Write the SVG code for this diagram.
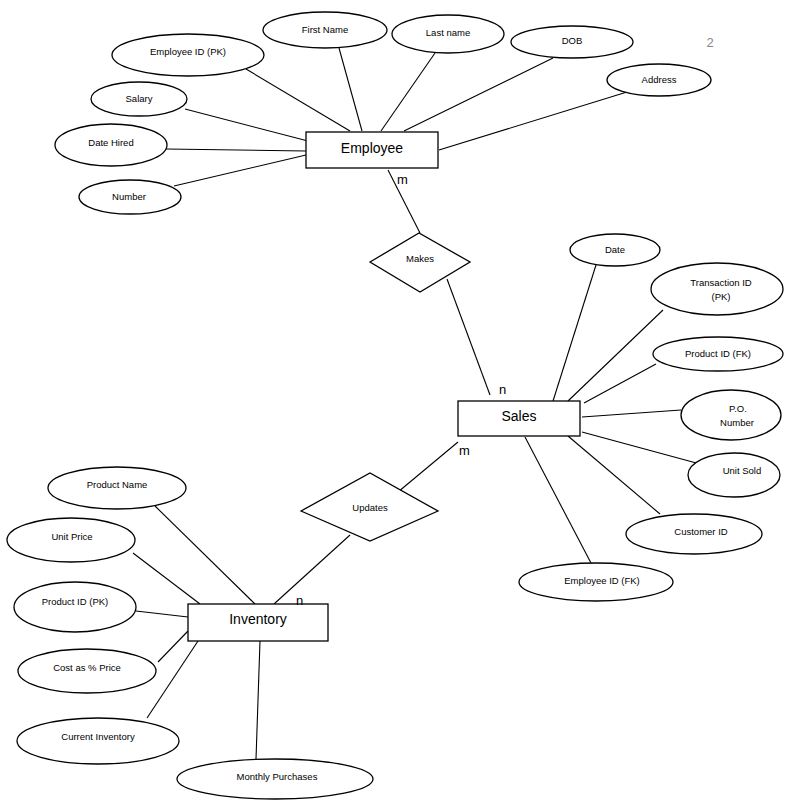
<svg xmlns="http://www.w3.org/2000/svg" width="801" height="808" viewBox="0 0 801 808">
<style>
.a{fill:#fff;stroke:#000;stroke-width:1.3}
.c line{stroke:#000;stroke-width:1.1}
text{font-family:"Liberation Sans",Arial,sans-serif;text-anchor:middle;fill:#000}
.s{font-size:9.5px}
.e{font-size:14px}
.l{font-size:13px;text-anchor:start}
</style>
<rect width="801" height="808" fill="#fff"/>
<g class="c" id="connectors">
<line x1="246" y1="69" x2="350" y2="131"/>
<line x1="339" y1="48" x2="362" y2="131"/>
<line x1="435" y1="53" x2="381" y2="131"/>
<line x1="553" y1="58" x2="404" y2="131"/>
<line x1="627" y1="92" x2="439" y2="150"/>
<line x1="185" y1="109" x2="308" y2="141"/>
<line x1="166" y1="149" x2="306" y2="151"/>
<line x1="174" y1="186" x2="306" y2="155"/>
<line x1="388" y1="170" x2="420" y2="233"/>
<line x1="447" y1="279" x2="490" y2="395"/>
<line x1="596" y1="265" x2="553" y2="401"/>
<line x1="663" y1="310" x2="568" y2="401"/>
<line x1="656" y1="364" x2="584" y2="403"/>
<line x1="681" y1="410" x2="582" y2="417"/>
<line x1="700" y1="464" x2="582" y2="432"/>
<line x1="660" y1="514" x2="568" y2="436"/>
<line x1="591" y1="563" x2="525" y2="437"/>
<line x1="458" y1="442" x2="398" y2="492"/>
<line x1="350" y1="535" x2="274" y2="604"/>
<line x1="155" y1="506" x2="255" y2="604"/>
<line x1="133" y1="553" x2="200" y2="604"/>
<line x1="136" y1="611" x2="188" y2="617"/>
<line x1="158" y1="662" x2="188" y2="631"/>
<line x1="147" y1="718" x2="198" y2="641"/>
<line x1="256" y1="759" x2="260" y2="641"/>
</g>
<g id="employee"><rect class="a" x="306" y="132" width="132" height="36"/><text class="e" x="372" y="153">Employee</text></g>
<g id="sales"><rect class="a" x="458" y="401" width="122" height="35"/><text class="e" x="519" y="421">Sales</text></g>
<g id="inventory"><rect class="a" x="188" y="604" width="140" height="37"/><text class="e" x="258" y="624">Inventory</text></g>
<g id="makes"><polygon class="a" points="370,262 419,233 470,262 420,292"/><text class="s" x="420" y="262">Makes</text></g>
<g id="updates"><polygon class="a" points="301,511 370,473 438,511 370,541"/><text class="s" x="370" y="511">Updates</text></g>
<g id="empid"><ellipse class="a" cx="188" cy="55" rx="76" ry="21"/><text class="s" x="188" y="55">Employee ID (PK)</text></g>
<g id="firstname"><ellipse class="a" cx="325" cy="30" rx="62" ry="18"/><text class="s" x="325" y="33">First Name</text></g>
<g id="lastname"><ellipse class="a" cx="448" cy="34" rx="56" ry="19"/><text class="s" x="448" y="36">Last name</text></g>
<g id="dob"><ellipse class="a" cx="572" cy="42" rx="61" ry="16"/><text class="s" x="572" y="44">DOB</text></g>
<g id="address"><ellipse class="a" cx="659" cy="80" rx="52" ry="16"/><text class="s" x="659" y="83">Address</text></g>
<g id="salary"><ellipse class="a" cx="139" cy="99" rx="48" ry="17"/><text class="s" x="139" y="102">Salary</text></g>
<g id="datehired"><ellipse class="a" cx="111" cy="145" rx="56" ry="21"/><text class="s" x="111" y="146">Date Hired</text></g>
<g id="number"><ellipse class="a" cx="130" cy="197" rx="51" ry="17"/><text class="s" x="129" y="200">Number</text></g>
<g id="date"><ellipse class="a" cx="615" cy="250" rx="45" ry="16"/><text class="s" x="615" y="253">Date</text></g>
<g id="transid"><ellipse class="a" cx="717" cy="289" rx="66" ry="26"/><text class="s" x="721" y="286">Transaction ID</text><text class="s" x="721" y="300">(PK)</text></g>
<g id="prodfk"><ellipse class="a" cx="718" cy="354" rx="65" ry="17"/><text class="s" x="718" y="357">Product ID (FK)</text></g>
<g id="po"><ellipse class="a" cx="731" cy="415" rx="50" ry="25"/><text class="s" x="738" y="412">P.O.</text><text class="s" x="737" y="426">Number</text></g>
<g id="unitsold"><ellipse class="a" cx="734" cy="475" rx="46" ry="22"/><text class="s" x="742" y="474">Unit Sold</text></g>
<g id="custid"><ellipse class="a" cx="694" cy="534" rx="68" ry="20"/><text class="s" x="701" y="535">Customer ID</text></g>
<g id="empfk"><ellipse class="a" cx="596" cy="582" rx="77" ry="19"/><text class="s" x="602" y="584">Employee ID (FK)</text></g>
<g id="prodname"><ellipse class="a" cx="117" cy="488" rx="69" ry="21"/><text class="s" x="117" y="488">Product Name</text></g>
<g id="unitprice"><ellipse class="a" cx="71" cy="540" rx="64" ry="22"/><text class="s" x="72" y="540">Unit Price</text></g>
<g id="prodpk"><ellipse class="a" cx="75" cy="607" rx="61" ry="25"/><text class="s" x="75" y="605">Product ID (PK)</text></g>
<g id="cost"><ellipse class="a" cx="87" cy="671" rx="69" ry="22"/><text class="s" x="87" y="671">Cost as % Price</text></g>
<g id="curinv"><ellipse class="a" cx="98" cy="741" rx="81" ry="23"/><text class="s" x="98" y="740">Current Inventory</text></g>
<g id="monthly"><ellipse class="a" cx="275" cy="779" rx="98" ry="20"/><text class="s" x="277" y="780">Monthly Purchases</text></g>
<text class="l" x="397" y="184">m</text>
<text class="l" x="499" y="394">n</text>
<text class="l" x="459" y="455">m</text>
<text class="l" x="296" y="605">n</text>
<text x="710" y="47" style="font-size:13px;fill:#888">2</text>
</svg>
